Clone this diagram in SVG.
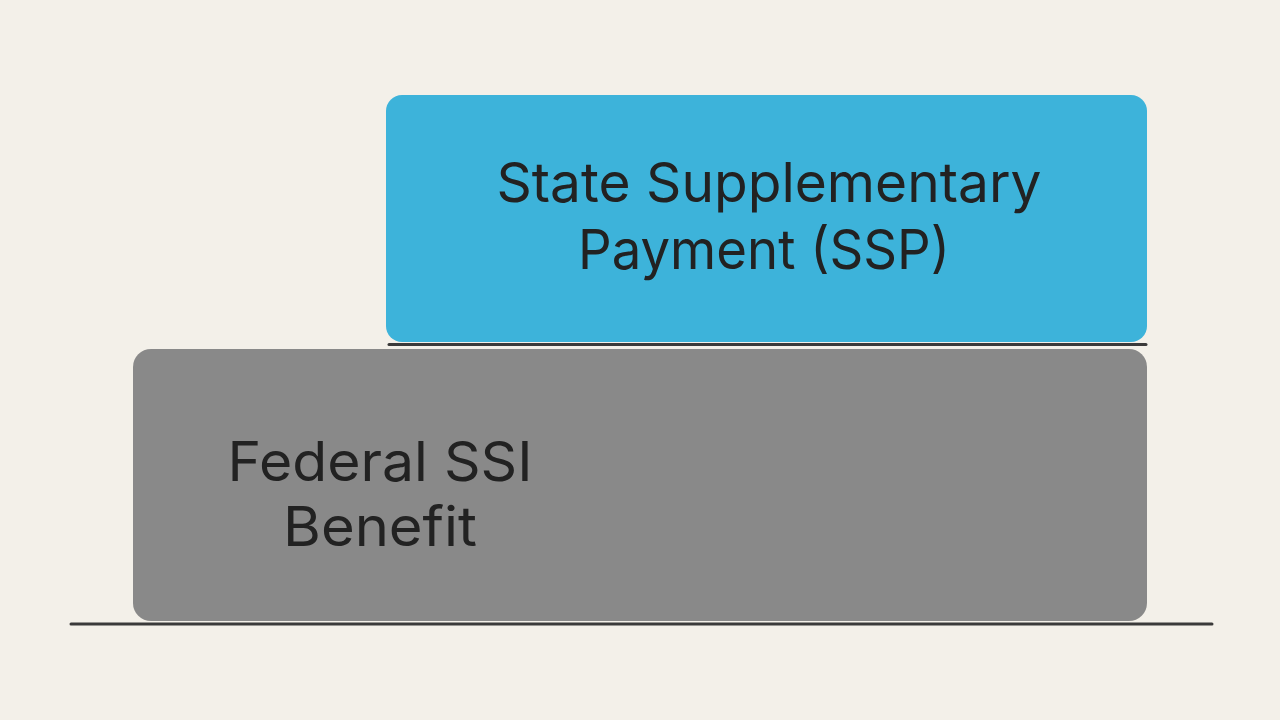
<svg xmlns="http://www.w3.org/2000/svg" width="1280" height="720" viewBox="0 0 1280 720">
<style>
.lbl{font-family:"Inter","Noto Sans","Liberation Sans",sans-serif;font-size:55px;fill:#222;text-anchor:middle}
.line{stroke:#3a3a3a;stroke-width:3;stroke-linecap:round}
</style>
<rect width="1280" height="720" fill="#f3f0e9"/>
<g id="federal">
<rect x="133" y="349" width="1014" height="272" rx="18" fill="#898989"/>
<text class="lbl" x="380" y="481" textLength="305" lengthAdjust="spacingAndGlyphs">Federal SSI</text>
<text class="lbl" x="380" y="546" textLength="194" lengthAdjust="spacingAndGlyphs">Benefit</text>
</g>
<g id="ssp">
<rect x="386" y="95" width="761" height="247" rx="16" fill="#3db3da"/>
<text class="lbl" x="769" y="202" textLength="545" lengthAdjust="spacingAndGlyphs">State Supplementary</text>
<text class="lbl" x="764" y="269" textLength="372" lengthAdjust="spacingAndGlyphs">Payment (SSP)</text>
</g>
<g id="connectors">
<line class="line" x1="389" y1="344.5" x2="1146" y2="344.5"/>
<line class="line" x1="71" y1="624" x2="1212" y2="624"/>
</g>
</svg>
